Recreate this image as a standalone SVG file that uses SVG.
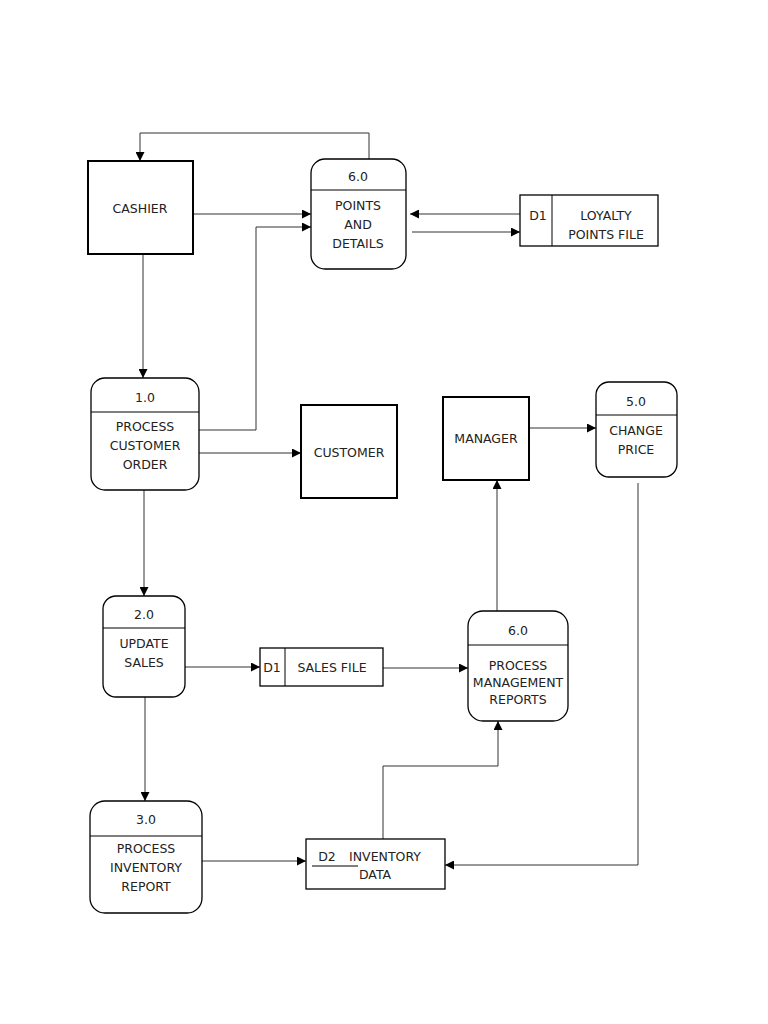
<svg xmlns="http://www.w3.org/2000/svg" width="768" height="1024" viewBox="0 0 768 1024">
<style>
.b{fill:#fff;stroke:#000;stroke-width:1.3}
.e{fill:#fff;stroke:#000;stroke-width:2}
.l{fill:none;stroke:#000;stroke-width:1}
.c{fill:none;stroke:#333;stroke-width:1;marker-end:url(#a)}
text{font-family:"DejaVu Sans",sans-serif;font-size:12.5px;fill:#222;text-anchor:middle}
</style>
<defs><marker id="a" viewBox="0 0 10 10" refX="10" refY="5" markerWidth="9" markerHeight="9" markerUnits="userSpaceOnUse" orient="auto"><path d="M0,0L10,5L0,10z" fill="#000"/></marker></defs>
<rect width="768" height="1024" fill="#fff"/>
<g id="connectors">
<path class="c" d="M369,159V133H140V161"/>
<path class="c" d="M193,214H311"/>
<path class="c" d="M199,430H256V227H311"/>
<path class="c" d="M520,214H410"/>
<path class="c" d="M412,232H520"/>
<path class="c" d="M143,254V378"/>
<path class="c" d="M199,453H301"/>
<path class="c" d="M144,490V596"/>
<path class="c" d="M185,667H260"/>
<path class="c" d="M383,668H468"/>
<path class="c" d="M497,611V480"/>
<path class="c" d="M529,428H596"/>
<path class="c" d="M638,483V865H445"/>
<path class="c" d="M145,697V801"/>
<path class="c" d="M202,861H306"/>
<path class="c" d="M383,839V766H498V721"/>
</g>
<g id="cashier"><rect class="e" x="88" y="161" width="105" height="93"/><text x="140" y="213">CASHIER</text></g>
<g id="p6a"><rect class="b" x="311" y="159" width="95" height="110" rx="14"/><path class="l" d="M311,190H406"/><text x="358" y="181">6.0</text><text x="358" y="210">POINTS</text><text x="358" y="229">AND</text><text x="358" y="248">DETAILS</text></g>
<g id="loyalty"><rect class="b" x="520" y="195" width="138" height="51"/><path class="l" d="M552,195V246"/><text x="538" y="220">D1</text><text x="606" y="220">LOYALTY</text><text x="606" y="239">POINTS FILE</text></g>
<g id="p1"><rect class="b" x="91" y="378" width="108" height="112" rx="14"/><path class="l" d="M91,412H199"/><text x="145" y="402">1.0</text><text x="145" y="431">PROCESS</text><text x="145" y="450">CUSTOMER</text><text x="145" y="469">ORDER</text></g>
<g id="customer"><rect class="e" x="301" y="405" width="96" height="93"/><text x="349" y="457">CUSTOMER</text></g>
<g id="manager"><rect class="e" x="443" y="397" width="86" height="83"/><text x="486" y="443">MANAGER</text></g>
<g id="p5"><rect class="b" x="596" y="382" width="81" height="95" rx="13"/><path class="l" d="M596,415H677"/><text x="636" y="406">5.0</text><text x="636" y="435">CHANGE</text><text x="636" y="454">PRICE</text></g>
<g id="p2"><rect class="b" x="103" y="596" width="82" height="101" rx="13"/><path class="l" d="M103,628H185"/><text x="144" y="619">2.0</text><text x="144" y="648">UPDATE</text><text x="144" y="667">SALES</text></g>
<g id="sales"><rect class="b" x="260" y="648" width="123" height="38"/><path class="l" d="M285,648V686"/><text x="272" y="672">D1</text><text x="332" y="672">SALES FILE</text></g>
<g id="p6b"><rect class="b" x="468" y="611" width="100" height="110" rx="15"/><path class="l" d="M468,645H568"/><text x="518" y="635">6.0</text><text x="518" y="670">PROCESS</text><text x="518" y="687">MANAGEMENT</text><text x="518" y="704">REPORTS</text></g>
<g id="p3"><rect class="b" x="90" y="801" width="112" height="112" rx="15"/><path class="l" d="M90,836H202"/><text x="146" y="824">3.0</text><text x="146" y="853">PROCESS</text><text x="146" y="872">INVENTORY</text><text x="146" y="891">REPORT</text></g>
<g id="d2"><rect class="b" x="306" y="839" width="139" height="50"/><path class="l" d="M312,866H358"/><text x="327" y="861">D2</text><text x="385" y="861">INVENTORY</text><text x="375" y="879">DATA</text></g>
</svg>
